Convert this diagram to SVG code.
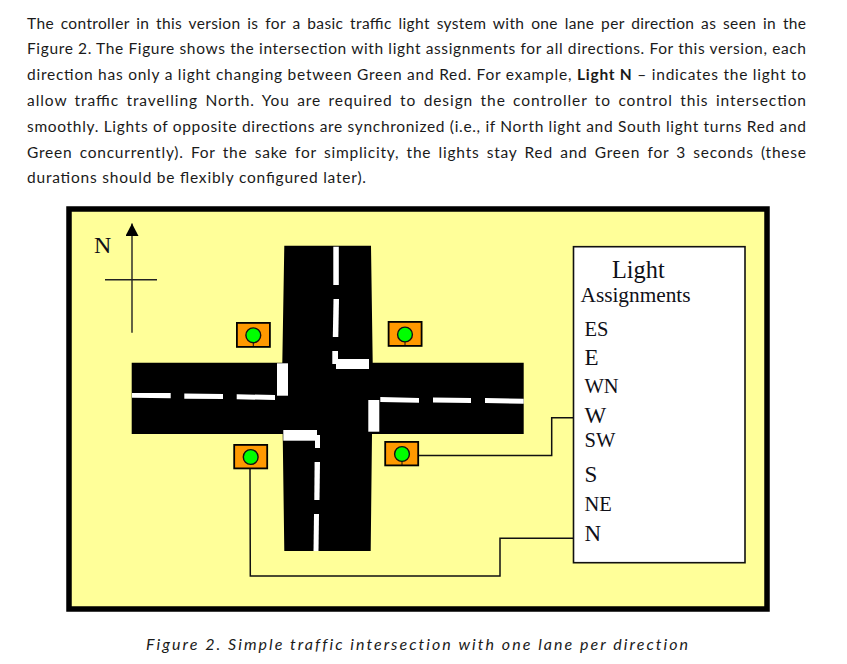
<svg xmlns="http://www.w3.org/2000/svg" width="847" height="664" viewBox="0 0 847 664">
<style>
.body{font-family:Lato,"Open Sans","Liberation Sans",sans-serif;font-size:15.5px;fill:#1a1a1a}
.w{word-spacing:2.5px}
.cap{font-family:Lato,"Open Sans","Liberation Sans",sans-serif;font-size:16px;font-style:italic;fill:#1a1a1a;font-variant-ligatures:none}
.t{font-family:"Liberation Serif","Times New Roman",serif;fill:#101018}
.s{font-size:20.5px}.b{font-size:23px}
.m{fill:#fff}
.box{fill:#ff9900;stroke:#000;stroke-width:1.8}
.lamp{fill:#00ff00;stroke:#111;stroke-width:1.4}
.wire{fill:none;stroke:#111;stroke-width:1.5}
</style>
<defs><marker id="ah" markerUnits="userSpaceOnUse" markerWidth="13" markerHeight="13" refX="12.5" refY="6.5" orient="auto"><path d="M0,0L12.5,6.5L0,13Z" fill="#000"/></marker></defs>
<rect width="847" height="664" fill="#fff"/>
<g id="paragraph">
<text class="body w" x="27" y="28.5" textLength="779">The controller in this version is for a basic traffic light system with one lane per direction as seen in the</text>
<text class="body" x="27" y="54" textLength="779">Figure 2. The Figure shows the intersection with light assignments for all directions. For this version, each</text>
<text class="body" x="27" y="80" textLength="779">direction has only a light changing between Green and Red. For example, <tspan font-weight="700">Light N</tspan> – indicates the light to</text>
<text class="body w" x="27" y="106" textLength="779">allow traffic travelling North. You are required to design the controller to control this intersection</text>
<text class="body" x="27" y="132" textLength="779">smoothly. Lights of opposite directions are synchronized (i.e., if North light and South light turns Red and</text>
<text class="body w" x="27" y="157.5" textLength="779">Green concurrently). For the sake for simplicity, the lights stay Red and Green for 3 seconds (these</text>
<text class="body" x="27" y="183" textLength="339">durations should be flexibly configured later).</text>
</g>
<rect id="frame" x="69" y="209" width="698" height="400" fill="#ffff99" stroke="#000" stroke-width="5.5"/>
<g id="compass">
<path d="M132,332.7V223.5" fill="none" stroke="#222" stroke-width="1.4" marker-end="url(#ah)"/>
<path d="M105,279.7H157" stroke="#222" stroke-width="1.4"/>
<text class="t" x="94" y="253.3" font-size="24">N</text>
</g>
<g id="road">
<path d="M284.3,245.7H371L372.7,362.7H523.7V434H372L370.7,551H284.3L282.7,434H131.7V362.7H282.3Z" fill="#000"/>
<g class="m">
<rect x="333.3" y="246.7" width="5.5" height="38.3"/>
<path d="M333.5,299H339L338.3,337H332.8Z"/>
<rect x="332.3" y="351" width="5.7" height="13"/>
<rect x="336" y="359" width="33" height="10"/>
<rect x="277" y="363.3" width="11" height="32.4"/>
<path d="M132,393H170.7V398.3L132,397.7Z"/>
<path d="M184.3,393.5L223,394V399L184.3,398.7Z"/>
<path d="M236.7,394.3L275,395V400L236.7,399.3Z"/>
<rect x="368.3" y="400" width="11" height="31.7"/>
<path d="M380.3,397L419,398V402.7L380.3,402Z"/>
<path d="M433,397.5L471,398V403L433,402.5Z"/>
<path d="M485,398L523.7,398.7V403.7L485,403Z"/>
<rect x="283.3" y="430" width="33.7" height="10.7"/>
<rect x="315" y="435" width="5" height="13"/>
<path d="M314.6,462H320L319.5,500H314.3Z"/>
<path d="M314,514H319L318.5,551H313.5Z"/>
</g>
</g>
<g id="connectors">
<path class="wire" d="M418.7,455.5H551.7V417.7H573.5"/>
<path class="wire" d="M250,468.7L250.3,576H500V538.3H573.5"/>
</g>
<g id="light-nw"><rect class="box" x="236.9" y="322.9" width="33" height="24"/><path d="M253.3,342V346" stroke="#111"/><circle class="lamp" cx="253.3" cy="335.3" r="7.4"/></g>
<g id="light-ne"><rect class="box" x="388.6" y="321.9" width="33" height="24"/><path d="M405,341V345" stroke="#111"/><circle class="lamp" cx="405" cy="334.5" r="7.4"/></g>
<g id="light-sw"><rect class="box" x="234.2" y="444.9" width="33" height="23.5"/><circle class="lamp" cx="250.7" cy="457" r="7.4"/></g>
<g id="light-se"><rect class="box" x="385.2" y="441.9" width="33" height="23.5"/><path d="M402,461V465" stroke="#111"/><circle class="lamp" cx="402" cy="454" r="7.4"/></g>
<g id="assignments">
<rect x="573.5" y="246.7" width="171.5" height="316" fill="#fff" stroke="#111" stroke-width="1.6"/>
<text class="t" x="612" y="277.7" font-size="24.3">Light</text>
<text class="t" x="580.5" y="301.7" font-size="21.3">Assignments</text>
<text class="t s" x="584.5" y="335.7">ES</text>
<text class="t b" x="584.5" y="365">E</text>
<text class="t s" x="584.5" y="393">WN</text>
<text class="t b" x="584.5" y="422.7">W</text>
<text class="t s" x="584.5" y="447">SW</text>
<text class="t b" x="584.5" y="481.7">S</text>
<text class="t s" x="584.5" y="511">NE</text>
<text class="t b" x="584.5" y="540.7">N</text>
</g>
<text class="cap" x="146" y="649.5" textLength="542">Figure 2. Simple traffic intersection with one lane per direction</text>
</svg>
